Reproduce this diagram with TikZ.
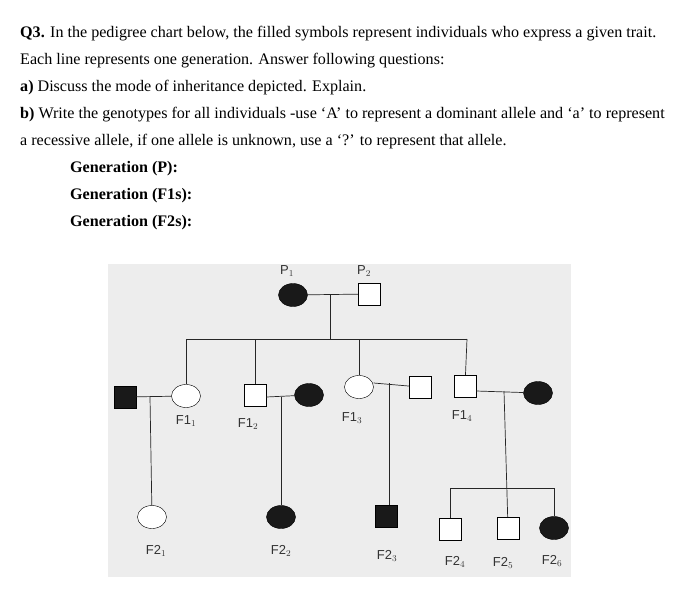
\documentclass[tikz,border=0pt]{standalone}
\usetikzlibrary{shapes.geometric}
\usepackage{fontspec}
\setmainfont{Liberation Serif}
\newfontfamily\hand{Liberation Sans}
\begin{document}
\begin{tikzpicture}[x=1pt,y=-1pt,
  txt/.style={anchor=base west,inner sep=0,font=\fontsize{16.1}{18}\selectfont},
  fem/.style={draw=black,ellipse,minimum width=29pt,minimum height=23pt,inner sep=0,fill=white},
  femA/.style={fem,fill=black!90},
  mal/.style={draw=black,rectangle,minimum size=22pt,inner sep=0,fill=white},
  malA/.style={mal,fill=black!90},
  ln/.style={draw=black!85,line width=0.7pt},
  lab/.style={font=\hand\fontsize{13}{13}\selectfont,inner sep=0,text=black!80}]
\useasboundingbox (0,0) rectangle (680,590);
\fill[white] (0,0) rectangle (680,590);
\node[txt] (t1) at (20,37) {\textbf{Q3.} In the pedigree chart below, the filled symbols represent individuals who express a given trait.};
\node[txt] (t2) at (20,64) {Each line represents one generation. Answer following questions:};
\node[txt] (t3) at (20,91) {\textbf{a)} Discuss the mode of inheritance depicted. Explain.};
\node[txt] (t4) at (20,118) {\textbf{b)} Write the genotypes for all individuals -use `A' to represent a dominant allele and `a' to represent};
\node[txt] (t5) at (20,145) {a recessive allele, if one allele is unknown, use a `?' to represent that allele.};
\node[txt] (g1) at (70,172) {\textbf{Generation (P):}};
\node[txt] (g2) at (70,199) {\textbf{Generation (F1s):}};
\node[txt] (g3) at (70,226) {\textbf{Generation (F2s):}};
% photo background
\fill[black!7] (108,264) rectangle (571,577);
% nodes
\node[femA] (p1) at (293,295) {};
\node[mal] (p2) at (369,294) {};
\node[malA] (m1) at (125,397) {};
\node[fem] (f11) at (186,396) {};
\node[mal] (f12) at (255,395) {};
\node[femA] (w2) at (309,395) {};
\node[fem] (f13) at (359,387) {};
\node[mal] (h3) at (420,387) {};
\node[mal] (f14) at (465,386) {};
\node[femA] (w4) at (538,393) {};
\node[fem] (f21) at (152,517) {};
\node[femA] (f22) at (281,517) {};
\node[malA] (f23) at (386,516) {};
\node[mal] (f24) at (450,529) {};
\node[mal] (f25) at (508,528) {};
\node[femA] (f26) at (554,528) {};
% coordinates
\coordinate (c0) at (330,295);
\coordinate (s0) at (330,339);
\coordinate (c1) at (150,397);
\coordinate (c2) at (281,397);
\coordinate (c3) at (389,383);
\coordinate (c4) at (504,391);
\coordinate (s4) at (504,488);
% lines
\draw[ln] (p1) -- (p2);
\draw[ln] (c0) -- (s0);
\draw[ln] (186,339) -- (467,339);
\draw[ln] (186,339) -- (f11);
\draw[ln] (255,339) -- (f12);
\draw[ln] (359,339) -- (f13);
\draw[ln] (467,339) -- (f14);
\draw[ln] (m1) -- (f11);
\draw[ln] (c1) -- (f21);
\draw[ln] (f12.east |- c2) -- (w2);
\draw[ln] (c2) -- (f22);
\draw[ln] (f13.east |- c3) -- (h3);
\draw[ln] (c3) -- (c3 |- f23.north);
\draw[ln] (f14.east |- c4) -- (w4);
\draw[ln] (c4) -- (f25);
\draw[ln] (450,488) -- (554,488);
\draw[ln] (450,488) -- (f24);
\draw[ln] (554,488) -- (f26);
% labels
\node[lab] (lp1) at (287,271) {P$_1$};
\node[lab] (lp2) at (364,271) {P$_2$};
\node[lab] (l11) at (186,421) {F1$_1$};
\node[lab] (l12) at (248,424) {F1$_2$};
\node[lab] (l13) at (352,418) {F1$_3$};
\node[lab] (l14) at (462,416) {F1$_4$};
\node[lab] (l21) at (156,551) {F2$_1$};
\node[lab] (l22) at (281,551) {F2$_2$};
\node[lab] (l23) at (387,556) {F2$_3$};
\node[lab] (l24) at (455,562) {F2$_4$};
\node[lab] (l25) at (503,563) {F2$_5$};
\node[lab] (l26) at (552,561) {F2$_6$};
\end{tikzpicture}
\end{document}
